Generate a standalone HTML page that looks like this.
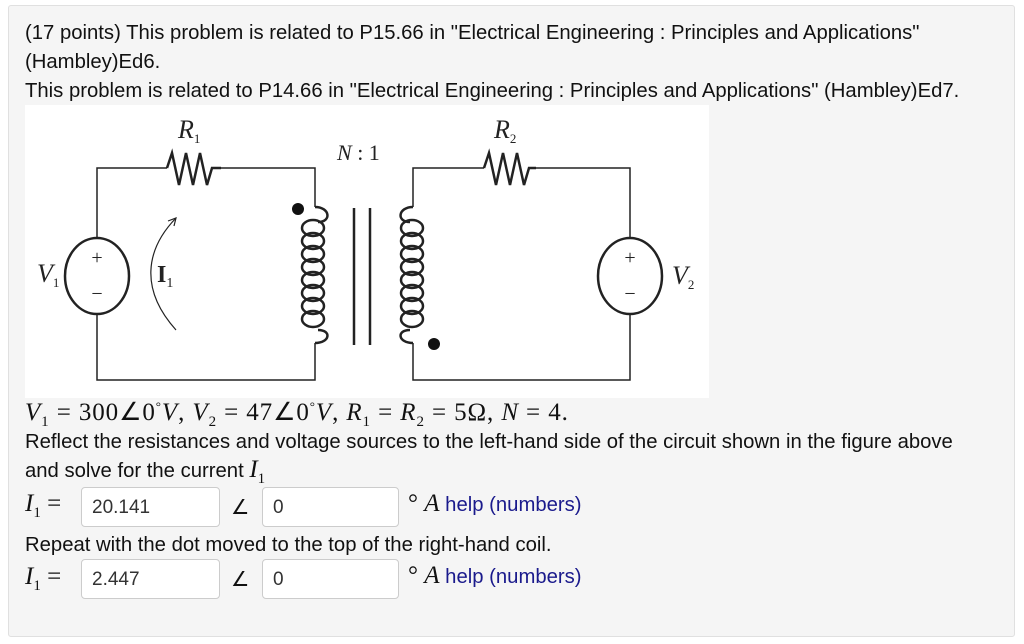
<!DOCTYPE html>
<html><head><style>
body{margin:0;width:1024px;height:644px;background:#fff;font-family:"Liberation Sans",Arial,sans-serif;position:relative;overflow:hidden}
.panel{position:absolute;left:8px;top:5px;width:1005px;height:630px;background:#f5f5f5;border:1px solid #e0e0e0;border-radius:3px}
.t{position:absolute;left:25px;font-size:20.3px;color:#111;white-space:nowrap}
.m{font-family:"Liberation Serif",serif;font-size:25px}
.in{position:absolute;height:40px;background:#fff;border:1px solid #ccc;border-radius:4px;font-size:19px;color:#333;box-sizing:border-box;padding:9px 10px}
.help{color:#1a1a8c}
sub{font-size:15px}
</style></head><body>
<div class="panel"></div>
<div class="t" style="top:22px">(17 points) This problem is related to P15.66 in "Electrical Engineering : Principles and Applications"</div>
<div class="t" style="top:51px">(Hambley)Ed6.</div>
<div class="t" style="top:80px">This problem is related to P14.66 in "Electrical Engineering : Principles and Applications" (Hambley)Ed7.</div>
<svg style="position:absolute;left:25px;top:105px" width="684" height="293" viewBox="25 105 684 293">
<rect x="25" y="105" width="684" height="293" fill="#fff"/>
<g fill="none" stroke="#222" stroke-width="1.5">
<polyline points="97,238 97,168 167,168"/>
<polyline points="221,168 315,168 315,207"/>
<polyline points="167,168 172,153 179,185 186,153 193,185 200,153 207,185 212,168 221,168" stroke-width="2.5"/>
<polyline points="97,313 97,380 315,380 315,343"/>
<polyline points="413,207 413,168 484,168"/>
<polyline points="536,168 630,168 630,238"/>
<polyline points="484,168 489,153 496,185 503,153 510,185 517,153 524,185 529,168 536,168" stroke-width="2.5"/>
<polyline points="413,343 413,380 630,380 630,313"/>
<ellipse cx="97" cy="276" rx="32" ry="38" stroke-width="2.5"/>
<ellipse cx="630" cy="276" rx="32" ry="38" stroke-width="2.5"/>
<line x1="354" y1="208" x2="354" y2="345" stroke-width="2.5"/>
<line x1="370" y1="208" x2="370" y2="345" stroke-width="2.5"/>
<path d="M315,207 C330,207 332,222 318,222" stroke-width="2.5"/>
<path d="M413,207 C398,207 396,222 410,222" stroke-width="2.5"/>
<path d="M318,330 C332,330 330,343 315,343" stroke-width="2.5"/>
<path d="M410,330 C396,330 398,343 413,343" stroke-width="2.5"/>
<g stroke-width="2.5">
<ellipse cx="313" cy="228" rx="11" ry="8"/><ellipse cx="313" cy="241" rx="11" ry="8"/><ellipse cx="313" cy="254" rx="11" ry="8"/><ellipse cx="313" cy="267" rx="11" ry="8"/><ellipse cx="313" cy="280" rx="11" ry="8"/><ellipse cx="313" cy="293" rx="11" ry="8"/><ellipse cx="313" cy="306" rx="11" ry="8"/><ellipse cx="313" cy="319" rx="11" ry="8"/>
<ellipse cx="412" cy="228" rx="11" ry="8"/><ellipse cx="412" cy="241" rx="11" ry="8"/><ellipse cx="412" cy="254" rx="11" ry="8"/><ellipse cx="412" cy="267" rx="11" ry="8"/><ellipse cx="412" cy="280" rx="11" ry="8"/><ellipse cx="412" cy="293" rx="11" ry="8"/><ellipse cx="412" cy="306" rx="11" ry="8"/><ellipse cx="412" cy="319" rx="11" ry="8"/>
</g>
<path d="M176,330 C140,290 145,250 176,218" stroke-width="1.2"/>
<path d="M168,221 L176,218 L174,226" stroke-width="1.2"/>
</g>
<circle cx="298" cy="209" r="6" fill="#111"/>
<circle cx="434" cy="344" r="6" fill="#111"/>
<g font-family="Liberation Serif,serif" fill="#222">
<text x="97" y="264" font-size="20" text-anchor="middle">+</text>
<text x="97" y="300" font-size="20" text-anchor="middle">−</text>
<text x="630" y="264" font-size="20" text-anchor="middle">+</text>
<text x="630" y="300" font-size="20" text-anchor="middle">−</text>
<text x="178" y="138" font-size="26" font-style="italic">R<tspan font-size="13" font-style="normal" dy="5">1</tspan></text>
<text x="494" y="138" font-size="26" font-style="italic">R<tspan font-size="13" font-style="normal" dy="5">2</tspan></text>
<text x="337" y="160" font-size="22" font-style="italic">N<tspan font-style="normal"> : 1</tspan></text>
<text x="37" y="282" font-size="26" font-style="italic">V<tspan font-size="13" font-style="normal" dy="5">1</tspan></text>
<text x="672" y="284" font-size="26" font-style="italic">V<tspan font-size="13" font-style="normal" dy="5">2</tspan></text>
<text x="157" y="282" font-size="24" font-weight="bold">I<tspan font-size="14" font-weight="normal" dy="5">1</tspan></text>
</g>
</svg>
<div class="t m" style="top:397px;letter-spacing:0.9px"><i>V</i><sub>1</sub> = 300∠0<sup style="font-size:13px">°</sup><i>V</i>, <i>V</i><sub>2</sub> = 47∠0<sup style="font-size:13px">°</sup><i>V</i>, <i>R</i><sub>1</sub> = <i>R</i><sub>2</sub> = 5Ω, <i>N</i> = 4.</div>
<div class="t" style="top:431px">Reflect the resistances and voltage sources to the left-hand side of the circuit shown in the figure above</div>
<div class="t" style="top:460px">and solve for the current <span class="m" style="line-height:20px"><i>I</i><sub>1</sub></span></div>
<div class="t m" style="top:490px"><i>I</i><sub>1</sub> =</div>
<div class="in" style="left:81px;top:487px;width:139px">20.141</div>
<div class="t" style="left:231px;top:495px">∠</div>
<div class="in" style="left:262px;top:487px;width:137px">0</div>
<div class="t" style="left:408px;top:490px"><span class="m">° <i>A</i></span> <span class="help">help (numbers)</span></div>
<div class="t" style="top:534px">Repeat with the dot moved to the top of the right-hand coil.</div>
<div class="t m" style="top:563px"><i>I</i><sub>1</sub> =</div>
<div class="in" style="left:81px;top:559px;width:139px">2.447</div>
<div class="t" style="left:231px;top:567px">∠</div>
<div class="in" style="left:262px;top:559px;width:137px">0</div>
<div class="t" style="left:408px;top:562px"><span class="m">° <i>A</i></span> <span class="help">help (numbers)</span></div>
</body></html>
